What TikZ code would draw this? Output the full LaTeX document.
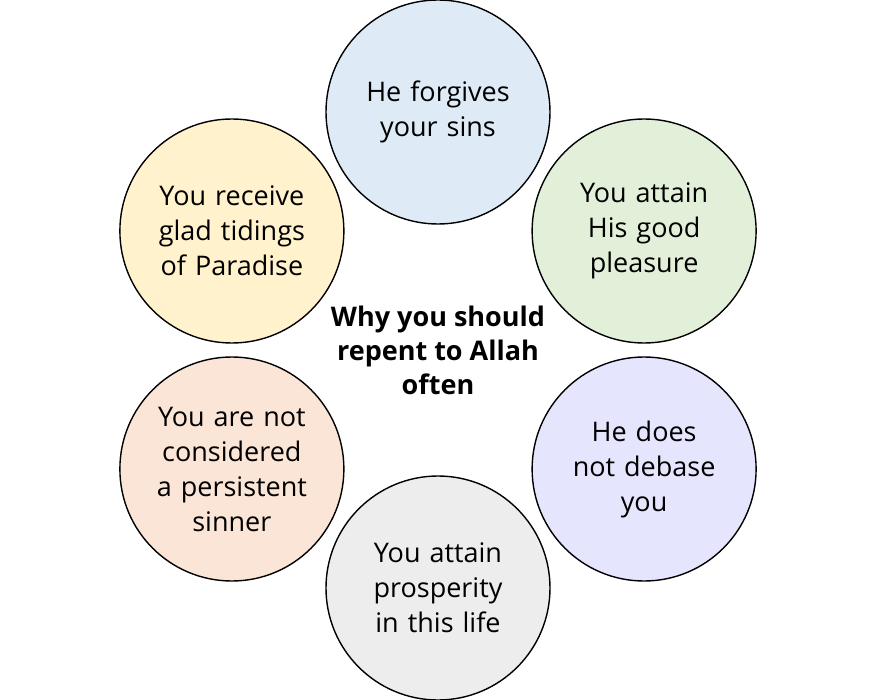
\documentclass[tikz,border=0pt]{standalone}
\usepackage{fontspec}
\setmainfont{Open Sans}
\usepackage{tikz}
\usetikzlibrary{calc}

\definecolor{cblue}{HTML}{DEEBF7}
\definecolor{cgreen}{HTML}{E2F0D9}
\definecolor{cpurple}{HTML}{E5E5FD}
\definecolor{cgray}{HTML}{EDEDED}
\definecolor{corange}{HTML}{FBE5D6}
\definecolor{cyellow}{HTML}{FFF2CC}

\tikzset{
	reason/.style = {circle, draw = black, line width = 1.4pt, minimum size = 224pt,
		inner sep = -20pt, align = center, text width = 205pt,
		font = \fontsize{27pt}{35pt}\selectfont}
}

\begin{document}
\begin{tikzpicture}[x = 1pt, y = 1pt]
				\useasboundingbox (-438, -349) rectangle (439, 350);
				\coordinate[](m) at (0, 0);

				\node[reason, fill = cblue] (top) at ($(m)+(90:238)$) {He forgives\\your sins};
				\node[reason, fill = cgreen] (upright) at ($(m)+(30:238)$) {You attain\\His good\\pleasure};
				\node[reason, fill = cpurple] (lowright) at ($(m)+(-30:238)$) {He does\\not debase\\you};
				\node[reason, fill = cgray] (bottom) at ($(m)+(-90:238)$) {You attain\\prosperity\\in this life};
				\node[reason, fill = corange] (lowleft) at ($(m)+(210:238)$) {You are not\\considered\\a persistent\\sinner};
				\node[reason, fill = cyellow] (upleft) at ($(m)+(150:238)$) {You receive\\glad tidings\\of Paradise};

				\node[align = center, font = \fontsize{27pt}{34pt}\selectfont\bfseries] (title) at (m) {Why you should\\repent to Allah\\often};
			\end{tikzpicture}
\end{document}
